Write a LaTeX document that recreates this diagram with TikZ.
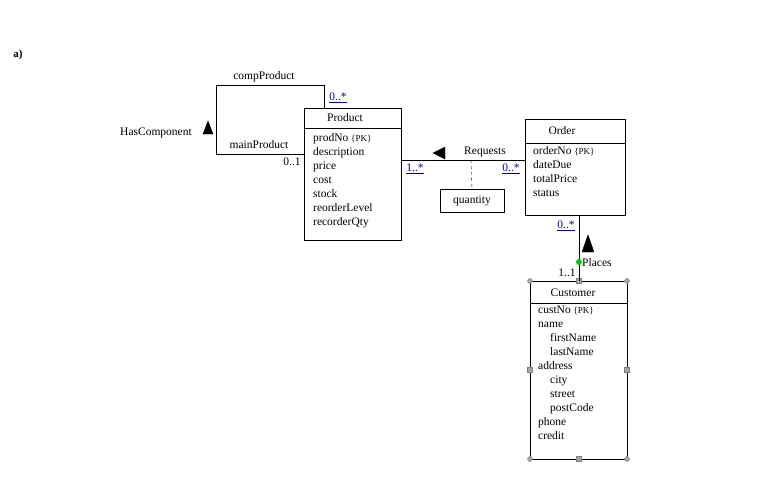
\documentclass[tikz,border=0pt]{standalone}
\usepackage{fontspec}
\setmainfont{Liberation Serif}
\begin{document}
\begin{tikzpicture}[x=1pt,y=-1pt,
  txt/.style={font=\fontsize{11.5}{14}\selectfont, inner sep=0pt},
  attr/.style={txt, align=left, anchor=north west},
  box/.style={draw, line width=0.8pt},
  ln/.style={line width=0.8pt},
  mul/.style={txt},
  handle/.style={fill=gray!70, draw=gray, circle, inner sep=0pt, minimum size=5pt},
  sqh/.style={fill=gray!70, draw=gray, inner sep=0pt, minimum size=5pt},
  tri/.style={fill=black, draw=black}]
\useasboundingbox (0,0) rectangle (758,496);
\newcommand{\bu}[1]{\textcolor{blue!60!black}{\underline{#1}}}
\node[txt,font=\fontsize{11}{14}\selectfont\bfseries] (a) at (18,55) {a)};
% Product
\draw[box] (304,108) rectangle (401,240);
\draw[ln] (304,128) -- (401,128);
\node[txt] (prod) at (345,118) {Product};
\node[attr] (pattr) at (313,133) {prodNo {\fontsize{9}{14}\selectfont\{PK\}}\\description\\price\\cost\\stock\\reorderLevel\\recorderQty};
% Order
\draw[box] (525,119) rectangle (625,215);
\draw[ln] (525,143) -- (625,143);
\node[txt] (ord) at (562,131) {Order};
\node[attr] (oattr) at (533,146) {orderNo {\fontsize{9}{14}\selectfont\{PK\}}\\dateDue\\totalPrice\\status};
% Customer
\draw[box] (530,281) rectangle (627,459);
\draw[ln] (530,303) -- (627,303);
\node[txt] (cust) at (573,293) {Customer};
\node[attr] (cattr) at (538,306) {custNo {\fontsize{9}{14}\selectfont\{PK\}}\\name\\\hspace{12pt}firstName\\\hspace{12pt}lastName\\address\\\hspace{12pt}city\\\hspace{12pt}street\\\hspace{12pt}postCode\\phone\\credit};
\foreach \p in {(530,281),(627,281),(530,459),(627,459)} \node[handle] at \p {};
\foreach \p in {(579,281),(579,459),(530,370),(627,370)} \node[sqh] at \p {};
% quantity
\node[box, txt, minimum width=64pt, minimum height=23pt] (q) at (472,200.5) {quantity};
% self association
\draw[ln] (324,108) -- (324,85) -- (216,85) -- (216,154) -- (304,154);
\node[txt] (cp) at (264,77) {compProduct};
\node[txt] (mp) at (259,145) {mainProduct};
\node[txt] (hc) at (156,133) {HasComponent};
\draw[tri] (203,134) -- (213,134) -- (208,121) -- cycle;
\node[mul] (m1) at (338,98) {\bu{0..*}};
\node[mul] (m2) at (292,162) {0..1};
% Requests
\draw[ln] (401,160) -- (525,160);
\coordinate (qa) at (471,160);
\draw[dashed] (qa) -- (q.north);
\draw[tri] (433,153) -- (445,147) -- (445,159) -- cycle;
\node[txt] (req) at (485,152) {Requests};
\node[mul] (m3) at (415,169) {\bu{1..*}};
\node[mul] (m4) at (511,169) {\bu{0..*}};
% Places
\draw[ln] (579,215) -- (579,281);
\draw[tri] (588,235) -- (594,252) -- (582,252) -- cycle;
\node[circle, fill=green!80!black, inner sep=0pt, minimum size=6pt] (gd) at (579,262) {};
\node[txt, anchor=west] (pl) at (582,263) {Places};
\node[mul] (m5) at (566,226) {\bu{0..*}};
\node[mul] (m6) at (567,273) {1..1};
\end{tikzpicture}
\end{document}
